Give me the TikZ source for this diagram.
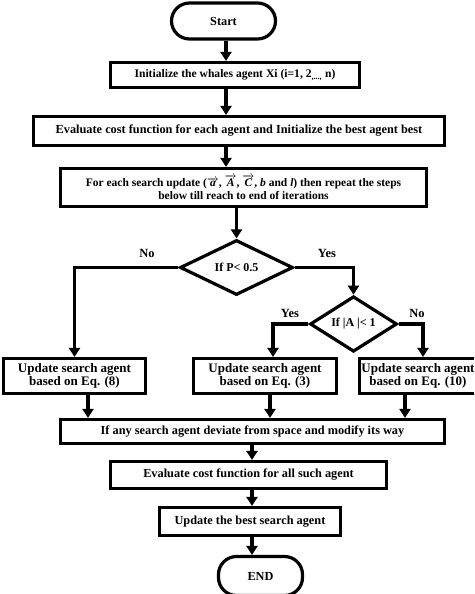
\documentclass[tikz,border=0pt]{standalone}
\usepackage{fontspec}
\setmainfont{Liberation Serif}
\usetikzlibrary{shapes.geometric,arrows.meta,calc}
\begin{document}
\begin{tikzpicture}[x=1pt,y=-1pt,
  box/.style={draw, line width=3.2pt, inner sep=2pt, align=center,
    font=\bfseries\fontsize{12.3}{13}\selectfont},
  term/.style={box, rounded corners=18pt},
  dec/.style={draw, diamond, line width=3.2pt, inner sep=0pt, align=center,
    font=\bfseries\fontsize{12}{13}\selectfont},
  arr/.style={line width=3.2pt, -{Triangle[width=11pt,length=9pt]}},
  lab/.style={font=\bfseries\fontsize{12.5}{13}\selectfont}]
\useasboundingbox (0,0) rectangle (474,594);
\clip (0,0) rectangle (474,594);

\node[term, minimum width=104pt, minimum height=36pt] (start) at (223.5,21) {Start};
\node[box, minimum width=249pt, minimum height=25pt,
  font=\bfseries\fontsize{11.6}{13}\selectfont] (init) at (235,75)
  {Initialize the whales agent Xi (i=1, 2\textsubscript{,...,} n)};
\node[box, minimum width=411pt, minimum height=29pt] (eval) at (239,131)
  {Evaluate cost function for each agent and Initialize the best agent best};
\node[box, minimum width=366pt, minimum height=38pt,
  font=\bfseries\fontsize{11.5}{13}\selectfont] (each) at (243.5,187.5)
  {For each search update ($\overrightarrow{\textit{a}}$, $\overrightarrow{\textit{A}}$, $\overrightarrow{\textit{C}}$, \textit{b} and \textit{l}) then repeat the steps\\ below till reach to end of iterations};
\node[dec, minimum width=113pt, minimum height=55pt] (d1) at (236.5,267.5) {If P< 0.5};
\node[dec, minimum width=87pt, minimum height=48pt] (d2) at (353.5,324) {If |A |< 1};
\node[box, minimum width=142pt, minimum height=35pt,
  font=\bfseries\fontsize{13}{13}\selectfont] (b8) at (74.5,376)
  {Update search agent\\ based on Eq. (8)};
\node[box, minimum width=143pt, minimum height=35pt,
  font=\bfseries\fontsize{13}{13}\selectfont] (b3) at (265,376)
  {Update search agent\\ based on Eq. (3)};
\node[box, minimum width=117pt, minimum height=35pt,
  font=\bfseries\fontsize{13}{13}\selectfont] (b10) at (418,376)
  {Update search agent\\ based on Eq. (10)};
\node[box, minimum width=384pt, minimum height=24pt] (dev) at (252.5,431.5)
  {If any search agent deviate from space and modify its way};
\node[box, minimum width=276pt, minimum height=27pt] (evall) at (248.5,475)
  {Evaluate cost function for all such agent};
\node[box, minimum width=181pt, minimum height=28pt] (best) at (250,521.5)
  {Update the best search agent};
\node[term, minimum width=84pt, minimum height=39pt] (end) at (260.5,576) {END};

\coordinate (ax) at (226,0);
\coordinate (m3) at (273,0);
\coordinate (m10) at (423,0);
\coordinate (c1) at (88,0);
\coordinate (c2) at (270,0);
\coordinate (c3) at (405,0);
\coordinate (cl) at (252,0);

\draw[arr] (start.south -| ax) -- (init.north -| ax);
\draw[arr] (init.south -| ax) -- (eval.north -| ax);
\draw[arr] (eval.south -| ax) -- (each.north -| ax);
\draw[arr] (each.south -| d1.north) -- (d1.north);
\draw[arr] (d1.west) -| (b8.north);
\draw[arr] (d1.east) -| (d2.north);
\draw[arr] (d2.west) -| (b3.north -| m3);
\draw[arr] (d2.east) -| (b10.north -| m10);
\draw[arr] (b8.south -| c1) -- (dev.north -| c1);
\draw[arr] (b3.south -| c2) -- (dev.north -| c2);
\draw[arr] (b10.south -| c3) -- (dev.north -| c3);
\draw[arr] (dev.south -| cl) -- (evall.north -| cl);
\draw[arr] (evall.south -| cl) -- (best.north -| cl);
\draw[arr] (best.south -| cl) -- (end.north -| cl);

\node[lab] (no1) at (147,253) {No};
\node[lab] (yes1) at (327,253) {Yes};
\node[lab] (yes2) at (290,313) {Yes};
\node[lab] (no2) at (417,313) {No};
\end{tikzpicture}
\end{document}
